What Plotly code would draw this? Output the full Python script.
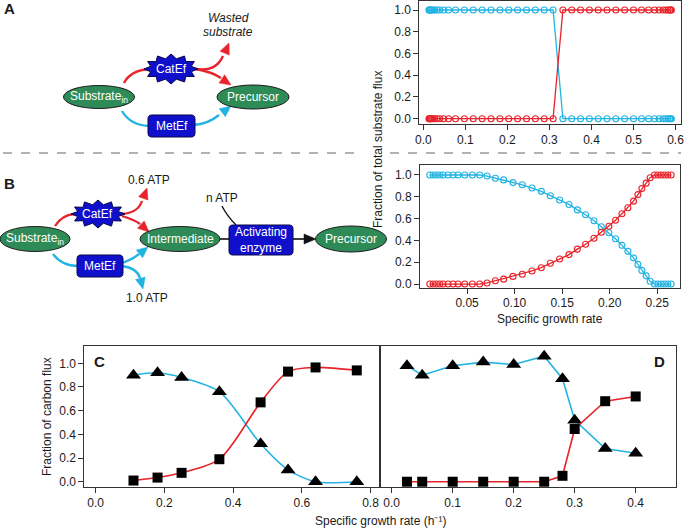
import math
import plotly.graph_objects as go

W, H = 685, 530
FONT = "Liberation Sans, Arial, Helvetica, sans-serif"
RED = "#e8232b"
CYAN = "#22b3e3"
GREEN = "#2e8b57"
BLUE = "#1010cc"
AXC = "#333333"

# ---------------- data ----------------
# Panel A model (top right, upper plot)
a_growth = [0.0135, 0.0143, 0.0155, 0.0172, 0.0195, 0.0225, 0.0265, 0.0320, 0.0390,
            0.0480, 0.0600, 0.0766, 0.0977, 0.1188, 0.1399, 0.1610, 0.1821, 0.2032,
            0.2243, 0.2454, 0.2665, 0.2876, 0.3087, 0.3320, 0.3530, 0.3740, 0.3950,
            0.4160, 0.4370, 0.4580, 0.4790, 0.5000, 0.5190, 0.5360, 0.5500, 0.5610,
            0.5700, 0.5770, 0.5820, 0.5860, 0.5885, 0.5900]
a_metef = [1, 1, 1, 1, 1, 1, 1, 1, 1, 1, 1, 1, 1, 1, 1, 1, 1, 1, 1, 1, 1, 1, 1,
           0, 0, 0, 0, 0, 0, 0, 0, 0, 0, 0, 0, 0, 0, 0, 0, 0, 0, 0]
a_catef = [0, 0, 0, 0, 0, 0, 0, 0, 0, 0, 0, 0, 0, 0, 0, 0, 0, 0, 0, 0, 0, 0, 0,
           1, 1, 1, 1, 1, 1, 1, 1, 1, 1, 1, 1, 1, 1, 1, 1, 1, 1, 1]

# Panel B model (top right, lower plot)
b_growth = [0.0108, 0.0143, 0.0178, 0.0213, 0.0248, 0.0300, 0.0353, 0.0405, 0.0475,
            0.0556, 0.0633, 0.0710, 0.0798, 0.0885, 0.0983, 0.1081, 0.1183, 0.1281,
            0.1376, 0.1474, 0.1572, 0.1660, 0.1747, 0.1835, 0.1912, 0.1992, 0.2062,
            0.2129, 0.2192, 0.2251, 0.2297, 0.2339, 0.2384, 0.2426, 0.2472, 0.2507,
            0.2542, 0.2577, 0.2612, 0.2647]
b_metef = [1, 1, 1, 1, 1, 1, 1, 1, 1, 1, 1, 0.99, 0.97, 0.955, 0.93, 0.91, 0.88, 0.85,
           0.81, 0.77, 0.73, 0.68, 0.635, 0.58, 0.525, 0.47, 0.415, 0.355, 0.30, 0.24,
           0.18, 0.125, 0.075, 0.025, 0, 0, 0, 0, 0, 0]
b_catef = [0, 0, 0, 0, 0, 0, 0, 0, 0, 0, 0, 0.01, 0.03, 0.045, 0.07, 0.09, 0.12, 0.15,
           0.19, 0.23, 0.27, 0.32, 0.365, 0.42, 0.475, 0.53, 0.585, 0.645, 0.70, 0.76,
           0.82, 0.875, 0.925, 0.975, 1, 1, 1, 1, 1, 1]

# Panel C (experimental)
c_growth = [0.11, 0.18, 0.25, 0.36, 0.48, 0.56, 0.64, 0.76]
c_resp = [0.90, 0.92, 0.88, 0.76, 0.32, 0.10, 0.0, 0.0]
c_ferm = [0.01, 0.035, 0.075, 0.19, 0.67, 0.93, 0.965, 0.94]

# Panel D (experimental)
d_growth = [0.025, 0.05, 0.10, 0.15, 0.20, 0.25, 0.28, 0.30, 0.35, 0.40]
d_resp = [0.98, 0.90, 0.98, 1.01, 0.99, 1.06, 0.87, 0.52, 0.28, 0.24]
d_ferm = [0.0, 0.0, 0.0, 0.0, 0.0, 0.0, 0.05, 0.445, 0.68, 0.72]

a_xticks = [0.0, 0.1, 0.2, 0.3, 0.4, 0.5, 0.6]
b_xticks = [0.05, 0.10, 0.15, 0.20, 0.25]
c_xticks = [0.0, 0.2, 0.4, 0.6, 0.8]
d_xticks = [0.0, 0.1, 0.2, 0.3, 0.4]
y_ticks = [0.0, 0.2, 0.4, 0.6, 0.8, 1.0]


# ---------------- helpers (pixel -> paper) ----------------
def px(x):
    return x / W


def py(y):
    return 1 - y / H


def P(x, y):
    return f"{px(x):.5f},{py(y):.5f}"


shapes = []
annotations = []


def curve(pts, color, width=2.3):
    d = "M " + P(*pts[0])
    i = 1
    while i < len(pts):
        d += " Q " + P(*pts[i]) + " " + P(*pts[i + 1])
        i += 2
    shapes.append(dict(type="path", xref="paper", yref="paper", path=d,
                       line=dict(color=color, width=width)))


def line(p0, p1, color, width=1.6):
    shapes.append(dict(type="path", xref="paper", yref="paper",
                       path="M " + P(*p0) + " L " + P(*p1),
                       line=dict(color=color, width=width)))


def head(tip, frm, color, L=11, Wd=10):
    dx, dy = tip[0] - frm[0], tip[1] - frm[1]
    n = math.hypot(dx, dy)
    ux, uy = dx / n, dy / n
    bx, by = tip[0] - ux * L, tip[1] - uy * L
    nx, ny = -uy, ux
    p1 = (bx + nx * Wd / 2, by + ny * Wd / 2)
    p2 = (bx - nx * Wd / 2, by - ny * Wd / 2)
    d = "M " + P(*tip) + " L " + P(*p1) + " L " + P(*p2) + " Z"
    shapes.append(dict(type="path", xref="paper", yref="paper", path=d,
                       fillcolor=color, line=dict(color=color, width=0.5)))


def label(x, y, text, size=12, color="#1a1a1a", xanchor="center", bold=False, italic=False,
          angle=0):
    t = text
    if bold:
        t = "<b>" + t + "</b>"
    if italic:
        t = "<i>" + t + "</i>"
    annotations.append(dict(x=px(x), y=py(y), xref="paper", yref="paper", text=t,
                            showarrow=False, xanchor=xanchor, yanchor="middle", textangle=angle,
                            font=dict(color=color, size=size, family=FONT)))


def ellipse(cx, cy, rx, ry, text):
    shapes.append(dict(type="circle", xref="paper", yref="paper",
                       x0=px(cx - rx), x1=px(cx + rx), y0=py(cy + ry), y1=py(cy - ry),
                       fillcolor=GREEN, line=dict(color="#1b1b1b", width=1)))
    label(cx, cy, text, color="white")


def rbox(x0, y0, x1, y1, text, r=4):
    d = ("M " + P(x0 + r, y0) + " L " + P(x1 - r, y0) + " Q " + P(x1, y0) + " " + P(x1, y0 + r)
         + " L " + P(x1, y1 - r) + " Q " + P(x1, y1) + " " + P(x1 - r, y1)
         + " L " + P(x0 + r, y1) + " Q " + P(x0, y1) + " " + P(x0, y1 - r)
         + " L " + P(x0, y0 + r) + " Q " + P(x0, y0) + " " + P(x0 + r, y0) + " Z")
    shapes.append(dict(type="path", xref="paper", yref="paper", path=d,
                       fillcolor=BLUE, line=dict(color="#05054a", width=1)))
    label((x0 + x1) / 2, (y0 + y1) / 2, text, color="white")


def star(cx, cy, rxo, ryo, rxi, ryi, n, text):
    pts = []
    for i in range(2 * n):
        ang = math.pi * i / n - math.pi / 2
        if i % 2 == 0:
            pts.append((cx + rxo * math.cos(ang), cy + ryo * math.sin(ang)))
        else:
            pts.append((cx + rxi * math.cos(ang), cy + ryi * math.sin(ang)))
    d = "M " + " L ".join(P(*p) for p in pts) + " Z"
    shapes.append(dict(type="path", xref="paper", yref="paper", path=d,
                       fillcolor=BLUE, line=dict(color="#05054a", width=1)))
    label(cx, cy, text, color="white")


# ---------------- diagram A ----------------
curve([(124, 83), (130, 71), (148, 69)], RED)
curve([(196, 69), (212, 72), (221, 78)], RED)
head((231, 85), (219, 77), RED)
curve([(196, 69), (216, 72), (223, 56)], RED)
head((229, 43), (223, 57), RED)
curve([(122, 111), (130, 125), (149, 126)], CYAN)
curve([(194, 125), (208, 124), (219, 115)], CYAN)
head((231, 106), (218, 116), CYAN)
ellipse(99, 97, 35.5, 11.5, "Substrate<sub>in</sub>")
ellipse(253, 97, 36, 12, "Precursor")
star(171, 69, 27, 15, 21, 10.5, 12, "CatEf")
rbox(148, 115, 195, 137, "MetEf")
label(228, 18, "Wasted", italic=True)
label(228, 32, "substrate", italic=True)
label(2, 9, "A", size=15, xanchor="left", bold=True)

# ---------------- diagram B ----------------
curve([(55, 226), (62, 215), (74, 214)], RED)
curve([(122, 216), (135, 220), (140, 224)], RED)
head((149, 232), (139, 223), RED)
curve([(122, 214), (138, 213), (142, 201)], RED)
head((147, 188), (142, 202), RED)
curve([(53, 254), (62, 266), (78, 266)], CYAN)
curve([(122, 263), (133, 259), (139, 254)], CYAN)
head((148, 247), (137, 256), CYAN)
curve([(122, 266), (137, 268), (140, 278)], CYAN)
head((143, 289), (140, 277), CYAN)
line((220, 239), (229, 239), "#111111")
line((293, 239), (305, 239), "#111111")
head((316, 239), (300, 239), "#111111", L=12, Wd=10)
curve([(222, 206), (227, 216), (236, 225)], "#111111", width=1.4)
ellipse(35, 239, 35, 12.5, "Substrate<sub>in</sub>")
ellipse(180, 239, 40, 12.5, "Intermediate")
ellipse(351, 239, 35.5, 13, "Precursor")
star(98, 214, 27, 14, 21, 9.5, 12, "CatEf")
rbox(77, 255, 123, 277, "MetEf")
rbox(229, 225, 293, 255, "Activating<br>enzyme")
label(149, 180, "0.6 ATP")
label(147, 298, "1.0 ATP")
label(222, 198, "n ATP")
label(2, 183, "B", size=15, xanchor="left", bold=True)

# dashed separator
for x0, x1 in [(3, 357), (390, 681)]:
    shapes.append(dict(type="line", xref="paper", yref="paper", x0=px(x0), x1=px(x1),
                       y0=py(153), y1=py(153), line=dict(color="#999999", width=1.5, dash="dash")))

# panel letters C, D and titles
label(100, 361, "C", size=15, bold=True)
label(659, 361, "D", size=15, bold=True)
label(378, 150, "Fraction of total substrate flux", size=12, angle=-90)
label(550, 319, "Specific growth rate", size=12)
label(47, 417, "Fraction of carbon flux", size=12, angle=-90)
label(380, 521, "Specific growth rate (h⁻¹)", size=12)

# ---------------- traces ----------------
fig = go.Figure()


def model(x, y, color, xa, ya):
    fig.add_trace(go.Scatter(x=x, y=y, mode="lines+markers", xaxis=xa, yaxis=ya,
                             line=dict(color=color, width=1.3),
                             marker=dict(symbol="circle-open", size=6, color=color,
                                         line=dict(width=1.1, color=color)),
                             showlegend=False, cliponaxis=False))


model(a_growth, a_metef, CYAN, "x", "y")
model(a_growth, a_catef, RED, "x", "y")
model(b_growth, b_metef, CYAN, "x2", "y2")
model(b_growth, b_catef, RED, "x2", "y2")


def expt(x, y, color, symbol, size, xa, ya, shape):
    fig.add_trace(go.Scatter(x=x, y=y, mode="lines", xaxis=xa, yaxis=ya,
                             line=dict(color=color, width=1.6, shape=shape, smoothing=0.8),
                             showlegend=False, cliponaxis=False, hoverinfo="skip"))
    fig.add_trace(go.Scatter(x=x, y=y, mode="markers", xaxis=xa, yaxis=ya,
                             marker=dict(symbol=symbol, size=size, color="black"),
                             showlegend=False, cliponaxis=False))


expt(c_growth, c_resp, CYAN, "triangle-up", 13, "x3", "y3", "spline")
expt(c_growth, c_ferm, RED, "square", 10, "x3", "y3", "spline")
expt(d_growth, d_resp, CYAN, "triangle-up", 13, "x4", "y4", "linear")
expt(d_growth, d_ferm, RED, "square", 10, "x4", "y4", "linear")

axis_common = dict(showline=True, mirror=True, linecolor=AXC, linewidth=1, ticks="outside",
                   ticklen=5, tickcolor=AXC, tickwidth=1, showgrid=False, zeroline=False,
                   tickfont=dict(size=12, family=FONT, color="#1a1a1a"), automargin=False,
                   fixedrange=True)

fig.update_layout(
    width=W, height=H, margin=dict(l=0, r=0, t=0, b=0),
    paper_bgcolor="white", plot_bgcolor="white",
    font=dict(family=FONT, size=12, color="#1a1a1a"),
    xaxis=dict(domain=[px(419.3), px(681)], range=[-0.0096, 0.613], anchor="y",
               tickvals=a_xticks, ticktext=[f"{v:.1f}" for v in a_xticks], **axis_common),
    yaxis=dict(domain=[py(124), py(1)], range=[-0.049, 1.083], anchor="x",
               tickvals=y_ticks, ticktext=[f"{v:.1f}" for v in y_ticks], **axis_common),
    xaxis2=dict(domain=[px(420), px(680)], range=[0.0005, 0.274], anchor="y2",
                tickvals=b_xticks, ticktext=[f"{v:.2f}" for v in b_xticks],
                ticklabelstandoff=-2, **axis_common),
    yaxis2=dict(domain=[py(288.3), py(165)], range=[-0.039, 1.0915], anchor="x2",
                tickvals=y_ticks, ticktext=[f"{v:.1f}" for v in y_ticks], **axis_common),
    xaxis3=dict(domain=[px(84.3), px(380)], range=[-0.0332, 0.8276], anchor="y3",
                tickvals=c_xticks, ticktext=[f"{v:.1f}" for v in c_xticks], **axis_common),
    yaxis3=dict(domain=[py(486.7), py(345.7)], range=[-0.042, 1.1486], anchor="x3",
                tickvals=y_ticks, ticktext=[f"{v:.1f}" for v in y_ticks], **axis_common),
    xaxis4=dict(domain=[px(380), px(676)], range=[-0.0192, 0.4661], anchor="y4",
                tickvals=d_xticks, ticktext=[f"{v:.1f}" for v in d_xticks], **axis_common),
    yaxis4=dict(domain=[py(486.7), py(345.7)], range=[-0.042, 1.1486], anchor="x4",
                showticklabels=False, **{k: v for k, v in axis_common.items() if k != "ticks"},
                ticks=""),
    shapes=shapes,
    annotations=annotations,
)

fig.write_html("out.html", config={"displayModeBar": False},
               post_script="document.body.style.margin='0';document.body.style.overflow='hidden';")
